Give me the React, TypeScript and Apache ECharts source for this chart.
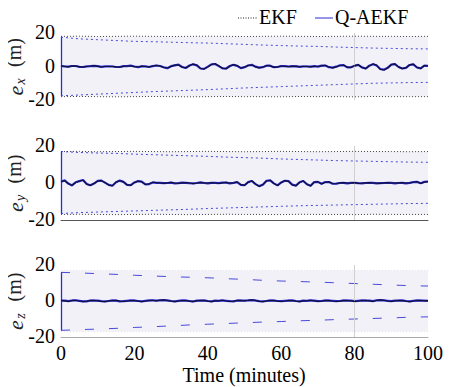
import React, { useEffect, useRef } from "react";
import * as echarts from "echarts";

// time samples (minutes) for the error traces
const TIME = [0,1,2,3,4,5,6,7,8,9,10,11,12,13,14,15,16,17,18,19,20,21,22,23,24,25,26,27,28,29,30,31,32,33,34,35,36,37,38,39,40,41,42,43,44,45,46,47,48,49,50,51,52,53,54,55,56,57,58,59,60,61,62,63,64,65,66,67,68,69,70,71,72,73,74,75,76,77,78,79,80,81,82,83,84,85,86,87,88,89,90,91,92,93,94,95,96,97,98,99,100];
// time samples (minutes) for the 3-sigma bounds
const BOUND_T = [0,5,10,15,20,25,30,35,40,45,50,55,60,65,70,75,80,85,90,95,100];

const X_TICKS = [0, 20, 40, 60, 80, 100];
const Y_TICKS = [-20, 0, 20];
const CURSOR_T = 80;
const LEGEND = ["EKF", "Q-AEKF"];
const X_NAME = "Time (minutes)";

// ---- e_x ----
const EX_EKF = [0.3,0.1,-0.2,0.4,0.2,-0.1,-0.4,0.0,0.3,0.5,0.1,-0.3,0.0,
  0.0,0.1,-0.2,-0.4,0.1,0.3,0.4,-0.1,-0.3,0.2,0.0,-0.2,0.3,
  0.7,0.2,-0.6,-0.9,0.1,0.8,1.0,-0.4,-0.8,
  0.5,1.4,0.9,-1.1,-1.5,-0.3,1.2,1.7,0.4,-1.0,-1.4,0.2,1.1,0.6,-0.9,
  -0.5,0.7,0.9,-0.2,-0.8,-0.3,0.6,0.4,-0.5,-0.2,0.3,0.1,
  -0.1,0.1,0.2,-0.1,0.0,0.1,-0.2,0.1,0.0,
  0.4,0.7,-0.3,-0.8,-0.2,0.6,0.9,-0.4,-0.6,0.5,
  1.1,-0.6,-1.3,0.4,1.5,0.8,-1.7,-2.1,-0.9,1.2,1.6,-0.4,-1.3,-0.7,1.0,1.4,-0.5,-1.2,0.6,0.3];
const EX_QA = [0.4,0.0,-0.1,0.3,0.3,-0.2,-0.3,0.1,0.2,0.4,0.2,-0.2,0.1,
  0.1,0.0,-0.3,-0.3,0.2,0.2,0.5,0.0,-0.4,0.1,0.1,-0.3,0.2,
  0.6,0.3,-0.5,-1.0,0.2,0.7,1.1,-0.3,-0.9,
  0.6,1.3,0.7,-1.2,-1.4,-0.1,1.3,1.5,0.2,-1.1,-1.2,0.3,1.0,0.4,-1.0,
  -0.4,0.6,1.0,-0.1,-0.7,-0.4,0.5,0.5,-0.4,-0.3,0.2,0.2,
  0.0,0.2,0.1,-0.2,0.1,0.0,-0.1,0.2,-0.1,
  0.5,0.6,-0.4,-0.7,-0.1,0.7,0.8,-0.5,-0.5,0.4,
  1.0,-0.5,-1.2,0.5,1.4,0.6,-1.5,-1.9,-0.8,1.1,1.4,-0.3,-1.2,-0.8,0.9,1.3,-0.6,-1.1,0.5,0.4];
const EX_EKF_UP = [18.0,18.1,17.9,18.0,18.1,18.0,17.9,18.0,18.1,18.0,17.9,18.0,18.1,18.0,17.9,18.0,18.1,18.0,18.0,17.9,18.0];
const EX_EKF_LO = [-18.0,-17.9,-18.0,-18.1,-18.0,-17.9,-18.0,-18.1,-18.0,-17.9,-18.0,-18.0,-18.1,-17.9,-18.0,-18.0,-18.1,-17.9,-18.0,-18.0,-18.0];
const EX_QA_UP = [17.5,16.5,16.0,15.5,15.0,14.8,14.5,14.2,14.0,13.6,13.2,12.8,12.5,12.2,12.0,11.6,11.3,11.0,10.8,10.6,10.5];
const EX_QA_LO = [-17.5,-17.0,-16.5,-16.0,-15.5,-15.0,-14.6,-14.2,-13.8,-13.3,-12.8,-12.4,-12.0,-11.6,-11.2,-10.8,-10.4,-10.0,-9.8,-9.6,-9.5];

// ---- e_y ----
const EY_EKF = [0.8,1.3,-0.4,-1.2,0.3,1.1,1.5,-0.6,-1.3,-0.2,1.0,1.4,0.1,-1.1,-1.4,0.5,1.2,0.7,-0.9,-1.3,0.2,1.1,0.6,-0.8,-0.5,0.4,
  0.2,0.0,-0.2,0.1,0.3,-0.1,-0.2,0.1,0.2,0.0,-0.3,-0.1,0.2,0.1,-0.1,0.2,0.0,-0.2,0.1,0.3,-0.1,0.0,
  0.6,-0.9,-1.3,0.4,1.2,-0.5,-1.9,-0.8,1.1,1.5,-0.3,-1.4,0.2,1.3,0.9,-1.0,-1.5,0.3,1.2,-0.6,-1.6,0.4,0.7,
  -0.5,0.4,0.6,-0.3,-0.4,
  0.1,0.2,-0.1,0.0,0.2,-0.2,-0.1,0.1,0.2,0.0,-0.1,-0.2,0.1,0.2,0.0,-0.1,0.1,0.2,-0.1,0.0,
  0.4,0.7,-0.2,0.5,0.8];
const EY_QA = [0.7,1.4,-0.3,-1.3,0.4,1.0,1.6,-0.5,-1.2,-0.3,1.1,1.3,0.2,-1.0,-1.5,0.4,1.3,0.6,-1.0,-1.2,0.3,1.0,0.7,-0.7,-0.6,0.3,
  0.1,0.1,-0.1,0.0,0.2,-0.2,-0.1,0.2,0.1,-0.1,-0.2,0.0,0.3,0.0,-0.2,0.1,0.1,-0.1,0.2,0.2,-0.2,0.1,
  0.5,-1.0,-1.2,0.5,1.1,-0.6,-1.7,-0.9,1.2,1.4,-0.2,-1.3,0.3,1.2,1.0,-0.9,-1.4,0.4,1.1,-0.7,-1.5,0.5,0.6,
  -0.4,0.5,0.5,-0.4,-0.3,
  0.0,0.1,-0.2,0.1,0.1,-0.1,-0.2,0.0,0.1,0.1,-0.2,-0.1,0.0,0.1,0.1,-0.2,0.0,0.1,-0.2,0.1,
  0.5,0.6,-0.1,0.6,0.7];
const EY_EKF_UP = [17.0,17.1,16.9,17.0,17.1,17.0,16.9,17.0,17.1,17.0,16.9,17.0,17.1,17.0,16.9,17.0,17.1,17.0,17.0,16.9,17.0];
const EY_EKF_LO = [-17.0,-16.9,-17.0,-17.1,-17.0,-16.9,-17.0,-17.1,-17.0,-16.9,-17.0,-17.0,-17.1,-16.9,-17.0,-17.0,-17.1,-16.9,-17.0,-17.0,-17.0];
const EY_QA_UP = [17.0,16.5,16.2,16.0,15.6,15.3,15.0,14.7,14.4,14.0,13.7,13.4,13.0,12.7,12.4,12.1,11.9,11.7,11.5,11.3,11.2];
const EY_QA_LO = [-16.5,-16.0,-15.7,-15.4,-15.1,-14.8,-14.5,-14.2,-13.8,-13.5,-13.2,-12.9,-12.6,-12.3,-12.1,-11.9,-11.7,-11.5,-11.3,-11.1,-11.0];

// ---- e_z ----
const EZ_EKF = [0.3,0.1,-0.2,0.2,0.4,0.0,-0.3,-0.1,0.2,0.3,
  0.1,-0.2,-0.3,0.1,0.2,0.3,-0.1,-0.2,0.0,0.2,
  0.3,-0.1,-0.3,0.0,0.2,0.4,0.1,0.5,0.6,0.2,
  -0.1,-0.3,0.0,0.2,0.3,-0.1,-0.2,0.1,0.3,0.2,
  -0.1,-0.3,0.1,0.2,0.4,0.0,-0.2,-0.1,0.2,0.3,
  0.1,0.4,0.6,0.2,-0.2,-0.3,0.1,0.2,0.3,-0.1,
  -0.2,0.0,0.3,0.2,-0.1,-0.3,0.1,0.2,0.4,0.1,
  -0.2,-0.1,0.2,0.3,0.0,-0.2,-0.1,0.2,0.3,0.1,
  -0.2,0.0,0.2,0.3,0.1,-0.2,0.3,0.6,0.4,0.0,
  -0.2,0.1,0.3,0.2,-0.1,-0.3,0.0,0.2,0.3,0.1,
  0.2];
const EZ_QA = [0.2,0.2,-0.1,0.3,0.3,0.1,-0.2,-0.2,0.3,0.2,
  0.2,-0.1,-0.2,0.0,0.3,0.2,-0.2,-0.1,0.1,0.3,
  0.2,0.0,-0.2,0.1,0.3,0.3,0.2,0.4,0.5,0.3,
  0.0,-0.2,0.1,0.3,0.2,0.0,-0.3,0.2,0.2,0.3,
  0.0,-0.2,0.2,0.1,0.3,0.1,-0.1,-0.2,0.3,0.2,
  0.2,0.3,0.5,0.3,-0.1,-0.2,0.0,0.3,0.2,0.0,
  -0.1,0.1,0.2,0.3,0.0,-0.2,0.2,0.1,0.3,0.2,
  -0.1,0.0,0.3,0.2,0.1,-0.1,0.0,0.3,0.2,0.2,
  -0.1,0.1,0.3,0.2,0.2,-0.1,0.4,0.5,0.3,0.1,
  -0.1,0.2,0.2,0.3,0.0,-0.2,0.1,0.3,0.2,0.2,
  0.1];
const EZ_EKF_UP = [17.0,17.0,17.0,17.0,17.0,17.0,17.0,17.0,17.0,17.0,17.0,17.0,17.0,17.0,17.0,17.0,17.0,17.0,17.0,17.0,17.0];
const EZ_EKF_LO = [-17.0,-17.0,-17.0,-17.0,-17.0,-17.0,-17.0,-17.0,-17.0,-17.0,-17.0,-17.0,-17.0,-17.0,-17.0,-17.0,-17.0,-17.0,-17.0,-17.0,-17.0];
const EZ_QA_UP = [15.9,15.6,15.2,14.8,14.3,13.9,13.5,13.2,12.9,12.4,12.0,11.5,11.1,10.8,10.5,10.1,9.7,9.3,8.9,8.5,8.3];
const EZ_QA_LO = [-16.3,-15.9,-15.6,-15.2,-14.7,-14.3,-13.8,-13.3,-12.9,-12.5,-12.1,-11.7,-11.4,-11.0,-10.7,-10.3,-10.0,-9.7,-9.4,-9.0,-8.8];

const AXES = [
  { sub: "x", qa: EX_QA, ekf: EX_EKF, ekfUp: EX_EKF_UP, ekfLo: EX_EKF_LO, qaUp: EX_QA_UP, qaLo: EX_QA_LO },
  { sub: "y", qa: EY_QA, ekf: EY_EKF, ekfUp: EY_EKF_UP, ekfLo: EY_EKF_LO, qaUp: EY_QA_UP, qaLo: EY_QA_LO },
  { sub: "z", qa: EZ_QA, ekf: EZ_EKF, ekfUp: EZ_EKF_UP, ekfLo: EZ_EKF_LO, qaUp: EZ_QA_UP, qaLo: EZ_QA_LO },
];

const FONT = "Liberation Serif";
const BLUE = "#2b2bd6";
const SHADE = "#f1f1f7";
const TXT = "#222";

const GRIDS = [
  { top: 33, height: 67 },
  { top: 146, height: 74 },
  { top: 265, height: 72 },
];
const GRID_LEFT = 61;
const GRID_W = 367;
const W = 474;
const H = 387;

function pairs(ts: number[], vs: number[]) {
  return ts.map((t, i) => [t, vs[i]]);
}

export default function App() {
  const ref = useRef<HTMLDivElement>(null);
  useEffect(() => {
    if (!ref.current) return;
    const chart = echarts.init(ref.current, undefined, { renderer: "svg" });

    const grid = GRIDS.map((g) => ({
      left: GRID_LEFT,
      width: GRID_W,
      top: g.top,
      height: g.height,
      containLabel: false,
      outerBoundsMode: "none",
    }));
    const xAxis = GRIDS.map((_, i) => ({
      type: "value",
      gridIndex: i,
      min: X_TICKS[0],
      max: X_TICKS[X_TICKS.length - 1],
      interval: 20,
      axisLine: {
        show: i > 0,
        onZero: false,
        lineStyle: { color: i === 1 ? "#555" : "#aaa", width: 1 },
      },
      axisTick: { show: false },
      splitLine: { show: false },
      axisLabel: { show: false },
    }));
    const yAxis = AXES.map((_, i) => ({
      type: "value",
      gridIndex: i,
      min: Y_TICKS[0],
      max: Y_TICKS[Y_TICKS.length - 1],
      interval: 20,
      axisLine: { show: false },
      axisTick: { show: false },
      splitLine: { show: false },
      axisLabel: { show: false },
    }));

    const series: any[] = [];
    AXES.forEach((a, i) => {
      const hi = Math.max(...a.ekfUp);
      const lo = Math.min(...a.ekfLo);
      const ekfBoundColor = i === 2 ? "#e2e2ec" : "#333";
      series.push({
        name: LEGEND[0],
        type: "line",
        xAxisIndex: i,
        yAxisIndex: i,
        data: pairs(BOUND_T, a.ekfUp),
        symbol: "none",
        z: 2,
        itemStyle: { color: TXT },
        lineStyle: { color: ekfBoundColor, width: 0.9, type: [1, 2] },
        markArea: {
          silent: true,
          itemStyle: { color: SHADE },
          data: [[{ xAxis: X_TICKS[0], yAxis: lo }, { xAxis: X_TICKS[X_TICKS.length - 1], yAxis: hi }]],
        },
        markLine: {
          silent: true,
          symbol: "none",
          label: { show: false },
          lineStyle: { color: "#d0d0d0", width: 1, type: "solid" },
          data: [{ xAxis: CURSOR_T }],
        },
      });
      series.push({
        name: LEGEND[0],
        type: "line",
        xAxisIndex: i,
        yAxisIndex: i,
        data: pairs(BOUND_T, a.ekfLo),
        symbol: "none",
        z: 2,
        itemStyle: { color: TXT },
        lineStyle: { color: ekfBoundColor, width: 0.9, type: [1, 2] },
      });
      const qaType = i === 2 ? [9, 15] : [2, 3];
      series.push({
        name: LEGEND[1],
        type: "line",
        xAxisIndex: i,
        yAxisIndex: i,
        data: pairs(BOUND_T, a.qaUp),
        symbol: "none",
        z: 3,
        itemStyle: { color: BLUE },
        lineStyle: { color: BLUE, width: 1, type: qaType, opacity: 0.85 },
        markLine: {
          silent: true,
          symbol: "none",
          label: { show: false },
          lineStyle: { color: BLUE, width: 1.3, type: "solid" },
          data: [[{ coord: [BOUND_T[0], a.qaUp[0]] }, { coord: [BOUND_T[0], a.qaLo[0]] }]],
        },
      });
      series.push({
        name: LEGEND[1],
        type: "line",
        xAxisIndex: i,
        yAxisIndex: i,
        data: pairs(BOUND_T, a.qaLo),
        symbol: "none",
        z: 3,
        itemStyle: { color: BLUE },
        lineStyle: { color: BLUE, width: 1, type: qaType, opacity: 0.85 },
      });
      series.push({
        name: LEGEND[1],
        type: "line",
        xAxisIndex: i,
        yAxisIndex: i,
        data: pairs(TIME, a.qa),
        symbol: "none",
        z: 4,
        itemStyle: { color: BLUE },
        lineStyle: { color: BLUE, width: 2.2 },
      });
      series.push({
        name: LEGEND[0],
        type: "line",
        xAxisIndex: i,
        yAxisIndex: i,
        data: pairs(TIME, a.ekf),
        symbol: "none",
        z: 5,
        itemStyle: { color: TXT },
        lineStyle: { color: "#10103a", width: 1.2 },
      });
    });

    chart.setOption({
      animation: false,
      backgroundColor: "#fff",
      grid,
      xAxis,
      yAxis,
      series,
    });

    const px = (g: number, x: number, y: number) =>
      chart.convertToPixel({ xAxisIndex: g, yAxisIndex: g }, [x, y]) as number[];
    const graphic: any[] = [];
    AXES.forEach((a, g) => {
      Y_TICKS.forEach((v) => {
        const p = px(g, X_TICKS[0], v);
        graphic.push({
          type: "text",
          right: W - (p[0] - 6),
          top: p[1] - 11,
          style: { text: String(v), fontFamily: FONT, fontSize: 20, fill: "#000" },
        });
      });
      const c = px(g, X_TICKS[0], 0)[1];
      graphic.push(
        {
          type: "text",
          x: 15,
          y: c + 24,
          rotation: Math.PI / 2,
          style: { text: "e", fontFamily: FONT, fontStyle: "italic", fontSize: 22, fill: TXT, align: "center", verticalAlign: "middle" },
        },
        {
          type: "text",
          x: 20,
          y: c + 15,
          rotation: Math.PI / 2,
          style: { text: a.sub, fontFamily: FONT, fontStyle: "italic", fontSize: 14, fill: TXT, align: "center", verticalAlign: "middle" },
        },
        {
          type: "text",
          x: 14,
          y: c - 14,
          rotation: Math.PI / 2,
          style: { text: "(m)", fontFamily: FONT, fontSize: 20, fill: TXT, align: "center", verticalAlign: "middle" },
        }
      );
    });
    X_TICKS.forEach((v) => {
      const p = px(2, v, Y_TICKS[0]);
      const wdt = String(v).length * 10;
      graphic.push({
        type: "text",
        left: p[0] - wdt / 2,
        top: p[1] + 6,
        style: { text: String(v), fontFamily: FONT, fontSize: 20, fill: "#000" },
      });
    });
    const xl = px(2, X_TICKS[0], Y_TICKS[0]);
    const xr = px(2, X_TICKS[X_TICKS.length - 1], Y_TICKS[0]);
    graphic.push({
      type: "text",
      left: (xl[0] + xr[0]) / 2 - 62,
      top: xl[1] + 28,
      style: { text: X_NAME, fontFamily: FONT, fontSize: 20, fill: "#000" },
    });
    const LY = 18;
    graphic.push(
      { type: "line", shape: { x1: 238, y1: LY, x2: 257, y2: LY }, style: { stroke: TXT, lineWidth: 1, lineDash: [1, 1.5] } },
      { type: "text", left: 259, top: LY - 11, style: { text: LEGEND[0], fontFamily: FONT, fontSize: 20, fill: "#000" } },
      { type: "line", shape: { x1: 315, y1: LY, x2: 333, y2: LY }, style: { stroke: BLUE, lineWidth: 1 } },
      { type: "text", left: 335, top: LY - 11, style: { text: LEGEND[1], fontFamily: FONT, fontSize: 20, fill: "#000" } }
    );
    chart.setOption({ graphic });

    return () => {
      chart.dispose();
    };
  }, []);
  return <div ref={ref} style={{ width: W, height: H, margin: "-8px 0 0 -8px" }} />;
}
